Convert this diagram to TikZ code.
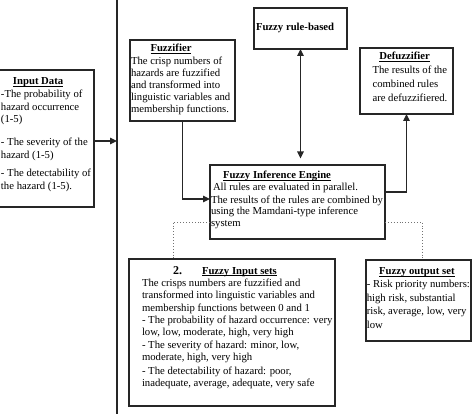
\documentclass[tikz,border=0pt]{standalone}
\usepackage{fontspec}
\setmainfont{Liberation Serif}
\usetikzlibrary{arrows.meta}
\newcommand{\ttl}[1]{\textbf{\underline{\smash{#1}}}}
\begin{document}
\begin{tikzpicture}[x=1pt,y=-1pt,
  box/.style={draw=black!85, line width=1.2pt, inner sep=0pt, outer sep=0pt, anchor=north west},
  txt/.style={anchor=north west, inner sep=0pt, outer sep=0pt, align=left, font=\fontsize{10.7}{12}\selectfont},
  link/.style={draw=black!85, line width=1.1pt},
  arr/.style={link, -{Triangle[length=7pt,width=6.5pt]}},
  dblarr/.style={link, {Triangle[length=7pt,width=6.5pt]}-{Triangle[length=7pt,width=6.5pt]}},
  dots/.style={draw=black!55, line width=0.9pt, dotted}]
\useasboundingbox (0,0) rectangle (474,414);

% boxes
\node[box, minimum width=99pt, minimum height=137pt] (inp) at (-5,70) {};
\node[box, minimum width=105pt, minimum height=81pt] (fuzz) at (130,40) {};
\node[box, minimum width=93pt, minimum height=41pt] (rule) at (254,8) {};
\node[box, minimum width=93pt, minimum height=66pt] (defz) at (360,48) {};
\node[box, minimum width=175pt, minimum height=74pt] (inf) at (210,165) {};
\node[box, minimum width=206pt, minimum height=147pt] (inset) at (129,259) {};
\node[box, minimum width=105pt, minimum height=81pt] (outset) at (366,260) {};

% texts
\node[txt, font=\fontsize{10.7}{12.8}\selectfont] (inpT) at (1,75.6)
 {\strut\hspace*{12pt}\ttl{Input Data}\\
  -The probability of\\ hazard occurrence\\ (1-5)\\[10pt]
  - The severity of the\\ hazard (1-5)\\[5.4pt]
  - The detectability of\\ the hazard (1-5).};
\node[txt, font=\fontsize{10.7}{12.2}\selectfont] (fuzzT) at (131,43.4)
 {\strut\hspace*{19.5pt}\ttl{Fuzzifier}\\
  The crisp numbers of\\ hazards are fuzzified\\ and transformed into\\
  linguistic variables and\\ membership functions.};
\node[txt] (ruleT) at (256,22.6) {\strut\textbf{Fuzzy rule-based}};
\node[txt, font=\fontsize{10.7}{13.8}\selectfont] (defzT) at (372.5,50.1)
 {\strut\hspace*{6.8pt}\ttl{Defuzzifier}\\
  The results of the\\ combined rules\\ are defuzzifiered.};
\node[txt] (infT) at (211,170.6)
 {\strut\hspace*{12pt}\ttl{Fuzzy Inference Engine}\\
  \hspace*{2pt}All rules are evaluated in parallel.\\
  The results of the rules are combined by\\
  using the Mamdani-type inference\\ system};
\node[txt, font=\fontsize{10.7}{12.3}\selectfont] (insetT) at (142,265.6)
 {\strut\hspace*{31pt}{\fontsize{12}{12.3}\selectfont\bfseries 2.}\hspace*{20pt}\ttl{Fuzzy Input sets}\\
  The crisps numbers are fuzzified and\\
  transformed into linguistic variables and\\
  membership functions between 0 and 1\\
  - The probability of hazard occurrence: very\\
  low, low, moderate, high, very high\\
  - The severity of hazard: minor, low,\\
  moderate, high, very high\\[1.7pt]
  - The detectability of hazard: poor,\\
  inadequate, average, adequate, very safe};
\node[txt, font=\fontsize{10.7}{13.4}\selectfont] (outsetT) at (366.8,265.1)
 {\strut\hspace*{12.3pt}\ttl{Fuzzy output set}\\
  - Risk priority numbers:\\ high risk, substantial\\
  risk, average, low, very\\ low};

% helper coordinates
\coordinate (vt) at (117,0);
\coordinate (vb) at (117,414);
\coordinate (ya) at (0,141);
\coordinate (yb) at (0,199);
\coordinate (yc) at (0,192);
\coordinate (yd) at (0,222);
\coordinate (xe) at (173,0);
\coordinate (xf) at (422,0);

% connectors
\draw[link] (vt) -- (vb);
\draw[arr] (inp.east |- ya) -- (vt |- ya);
\draw[arr] (fuzz.south) |- (inf.west |- yb);
\draw[dblarr, shorten <=6.5pt] (inf.north -| rule.south) -- (rule.south);
\draw[arr] (inf.east |- yc) -| (defz.south);
\draw[dots] (inf.west |- yd) -| (inset.north -| xe);
\draw[dots] (inf.east |- yd) -| (outset.north -| xf);
\end{tikzpicture}
\end{document}
